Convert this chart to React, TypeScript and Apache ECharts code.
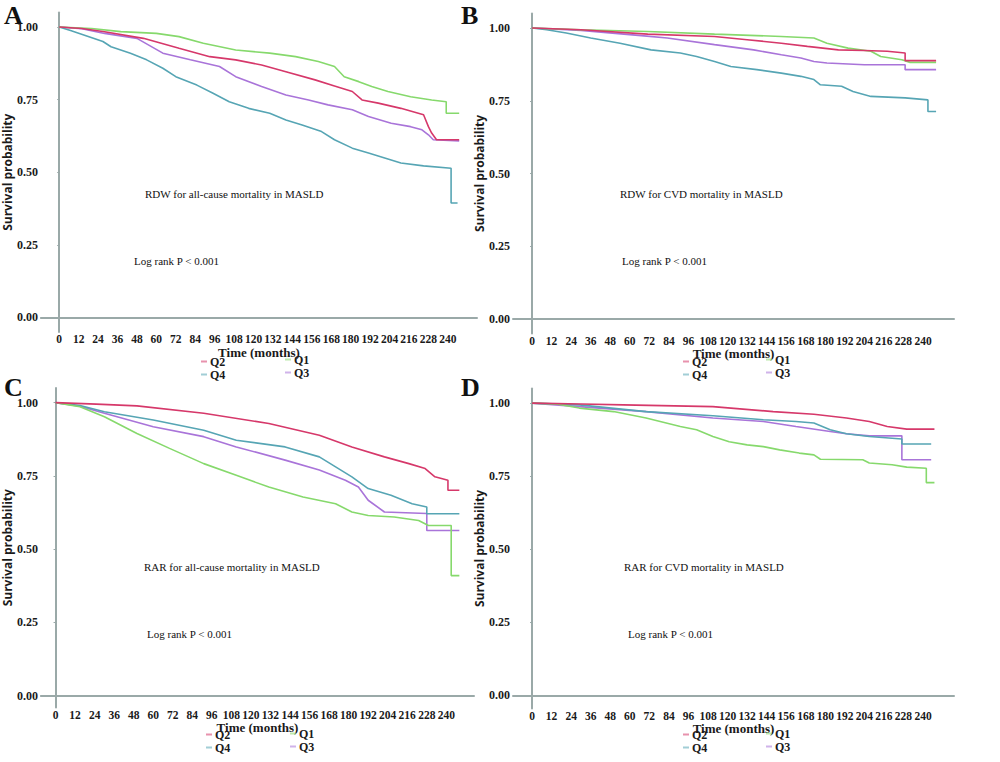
import React, { useEffect, useRef } from "react";
import * as echarts from "echarts";

// ---- tick labels ----
const xTicks = [0, 12, 24, 36, 48, 60, 72, 84, 96, 108, 120, 132, 144, 156, 168, 180, 192, 204, 216, 228, 240];
const yTicks = [0, 0.25, 0.5, 0.75, 1];
const groups = ["Q2", "Q1", "Q4", "Q3"];

// ---- Panel A: RDW, all-cause ----
const aQ2 = [[0, 1], [14, 0.995], [28, 0.984], [52, 0.961], [74, 0.927], [93, 0.898], [109, 0.887], [125, 0.869], [140, 0.846], [158, 0.818], [170, 0.797], [181, 0.778], [187, 0.749], [197, 0.738], [211, 0.72], [225, 0.698], [228, 0.657], [230, 0.635], [233, 0.612], [247, 0.612]];
const aQ1 = [[0, 1], [20, 0.995], [38, 0.984], [60, 0.978], [74, 0.967], [89, 0.944], [109, 0.921], [130, 0.91], [146, 0.898], [160, 0.881], [170, 0.864], [176, 0.829], [185, 0.812], [193, 0.795], [203, 0.778], [217, 0.76], [230, 0.749], [239, 0.743], [239, 0.703], [247, 0.703]];
const aQ4 = [[0, 1], [7, 0.988], [17, 0.969], [27, 0.95], [32, 0.932], [44, 0.91], [54, 0.887], [64, 0.858], [72, 0.829], [85, 0.8], [95, 0.772], [105, 0.743], [117, 0.72], [130, 0.703], [140, 0.68], [150, 0.663], [162, 0.64], [170, 0.612], [181, 0.583], [191, 0.566], [201, 0.549], [211, 0.532], [225, 0.522], [242, 0.514], [242, 0.394], [246, 0.394]];
const aQ3 = [[0, 1], [14, 0.994], [28, 0.978], [48, 0.961], [64, 0.91], [81, 0.887], [99, 0.864], [109, 0.829], [125, 0.795], [140, 0.766], [154, 0.749], [166, 0.732], [181, 0.715], [191, 0.692], [205, 0.669], [217, 0.657], [224, 0.646], [228, 0.629], [231, 0.612], [247, 0.608]];

// ---- Panel B: RDW, CVD ----
const bQ2 = [[0, 1], [30, 0.994], [71, 0.979], [112, 0.971], [132, 0.96], [153, 0.948], [169, 0.937], [188, 0.925], [204, 0.923], [218, 0.92], [229, 0.914], [229, 0.888], [248, 0.888]];
const bQ1 = [[0, 1], [30, 0.994], [71, 0.988], [112, 0.979], [153, 0.971], [173, 0.966], [181, 0.948], [194, 0.931], [208, 0.92], [214, 0.902], [227, 0.891], [232, 0.882], [248, 0.882]];
const bQ4 = [[0, 1], [9, 0.994], [21, 0.983], [36, 0.966], [54, 0.948], [73, 0.925], [91, 0.914], [101, 0.902], [112, 0.885], [122, 0.868], [138, 0.857], [153, 0.845], [165, 0.834], [173, 0.823], [177, 0.805], [190, 0.8], [197, 0.782], [208, 0.765], [229, 0.76], [243, 0.753], [243, 0.713], [248, 0.713]];
const bQ3 = [[0, 1], [30, 0.992], [67, 0.974], [83, 0.966], [112, 0.943], [136, 0.925], [153, 0.908], [165, 0.897], [173, 0.885], [181, 0.88], [204, 0.874], [229, 0.874], [229, 0.857], [248, 0.857]];

// ---- Panel C: RAR, all-cause ----
const cQ2 = [[0, 1], [25, 0.995], [50, 0.989], [91, 0.964], [131, 0.929], [162, 0.889], [182, 0.849], [202, 0.815], [217, 0.792], [227, 0.775], [233, 0.747], [241, 0.735], [241, 0.701], [248, 0.701]];
const cQ1 = [[0, 1], [15, 0.986], [30, 0.952], [50, 0.895], [70, 0.844], [91, 0.792], [111, 0.752], [131, 0.712], [152, 0.678], [172, 0.655], [182, 0.627], [192, 0.615], [208, 0.61], [223, 0.598], [229, 0.581], [243, 0.581], [243, 0.41], [248, 0.41]];
const cQ4 = [[0, 1], [15, 0.99], [30, 0.969], [60, 0.941], [91, 0.906], [111, 0.872], [141, 0.849], [162, 0.815], [172, 0.781], [182, 0.747], [192, 0.707], [206, 0.684], [219, 0.655], [228, 0.644], [228, 0.621], [248, 0.621]];
const cQ3 = [[0, 1], [15, 0.988], [30, 0.964], [60, 0.918], [91, 0.884], [111, 0.849], [141, 0.804], [162, 0.77], [178, 0.735], [186, 0.712], [192, 0.667], [202, 0.627], [228, 0.622], [228, 0.564], [248, 0.564]];

// ---- Panel D: RAR, CVD ----
const dQ2 = [[0, 1], [30, 0.997], [56, 0.994], [111, 0.988], [148, 0.971], [173, 0.962], [193, 0.949], [207, 0.937], [218, 0.92], [230, 0.911], [247, 0.911]];
const dQ1 = [[0, 1], [15, 0.997], [29, 0.983], [50, 0.971], [70, 0.949], [91, 0.92], [101, 0.909], [111, 0.886], [121, 0.868], [132, 0.857], [142, 0.851], [152, 0.84], [164, 0.829], [173, 0.823], [177, 0.808], [203, 0.806], [207, 0.795], [221, 0.789], [230, 0.781], [242, 0.777], [242, 0.728], [247, 0.728]];
const dQ4 = [[0, 1], [29, 0.994], [70, 0.971], [111, 0.957], [142, 0.943], [162, 0.937], [173, 0.932], [183, 0.909], [193, 0.895], [207, 0.886], [227, 0.877], [227, 0.86], [245, 0.86]];
const dQ3 = [[0, 1], [29, 0.988], [70, 0.971], [111, 0.949], [142, 0.937], [162, 0.92], [183, 0.903], [193, 0.895], [207, 0.888], [227, 0.888], [227, 0.806], [245, 0.806]];

const panelLetters = ["A", "B", "C", "D"];
const panelTitles = [
  "RDW for all-cause mortality in MASLD",
  "RDW for CVD mortality in MASLD",
  "RAR for all-cause mortality in MASLD",
  "RAR for CVD mortality in MASLD",
];
const logRankText = "Log rank P < 0.001";

const COLORS: Record<string, string> = {
  Q2: "#d6386a",
  Q1: "#86d96c",
  Q4: "#56a5b4",
  Q3: "#a974d9",
};

const SERIF = "'Liberation Serif', 'DejaVu Serif', serif";
const SANS = "'Open Sans', 'Noto Sans', sans-serif";
const AXIS_COLOR = "#9aa9a8";
const TEXT = "#1a1a1a";

const grids = [
  { left: 37, top: 12.5, width: 440, height: 319.5, xmin: -11.3, xmax: 258, ymin: -0.05 },
  { left: 513, top: 13.5, width: 441, height: 320, xmin: -11.7, xmax: 259, ymin: -0.05 },
  { left: 37, top: 388, width: 437, height: 319.5, xmin: -9, xmax: 257, ymin: -0.04 },
  { left: 513, top: 388.5, width: 441, height: 320, xmin: -11.7, xmax: 259, ymin: -0.045 },
];

const panelData = [
  { Q2: aQ2, Q1: aQ1, Q4: aQ4, Q3: aQ3 },
  { Q2: bQ2, Q1: bQ1, Q4: bQ4, Q3: bQ3 },
  { Q2: cQ2, Q1: cQ1, Q4: cQ4, Q3: cQ3 },
  { Q2: dQ2, Q1: dQ1, Q4: dQ4, Q3: dQ3 },
];

const nameGaps = [12, 12, 9, 9];
const titlePos = [[145, 194], [620, 194], [144, 567], [624, 567]];
const logPos = [[134, 261], [622, 261], [147, 634], [628, 634]];
const letterPos = [[4, 2], [461, 2], [4, 374], [461, 374]];
const legendPos = [
  [201, 355, 285, 353],
  [683, 355, 766, 353],
  [206, 728, 290, 727],
  [683, 728, 766, 727],
];

function buildOption() {
  const xAxis: any[] = [];
  const yAxis: any[] = [];
  const series: any[] = [];
  const legend: any[] = [];
  const graphic: any[] = [];

  grids.forEach((g, i) => {
    xAxis.push({
      type: "value",
      gridIndex: i,
      min: g.xmin,
      max: g.xmax,
      axisLine: { show: true, lineStyle: { color: AXIS_COLOR, width: 2 } },
      axisTick: { show: false },
      splitLine: { show: false },
      axisLabel: {
        customValues: xTicks,
        fontFamily: SERIF,
        fontSize: 11.5,
        fontWeight: "bold",
        color: TEXT,
        margin: 1,
      },
      name: "Time (months)",
      nameLocation: "middle",
      nameGap: nameGaps[i],
      nameTextStyle: { fontFamily: SERIF, fontSize: 13, fontWeight: "bold", color: TEXT },
    });
    yAxis.push({
      type: "value",
      gridIndex: i,
      min: g.ymin,
      max: 1.05,
      axisLine: { show: true, lineStyle: { color: AXIS_COLOR, width: 2 } },
      axisTick: { show: true, customValues: yTicks, length: 2, lineStyle: { color: AXIS_COLOR } },
      splitLine: { show: false },
      axisLabel: {
        customValues: yTicks,
        formatter: (v: number) => v.toFixed(2),
        fontFamily: SERIF,
        fontSize: 12,
        fontWeight: "bold",
        color: TEXT,
        margin: 3,
      },
      name: "Survival probability",
      nameLocation: "middle",
      nameGap: 21,
      nameTextStyle: { fontFamily: SANS, fontSize: 12, fontWeight: "bold", color: TEXT },
    });
    const pd: any = panelData[i];
    ["Q3", "Q4", "Q1", "Q2"].forEach((q) => {
      series.push({
        type: "line",
        name: q,
        xAxisIndex: i,
        yAxisIndex: i,
        data: pd[q],
        showSymbol: false,
        symbol: "none",
        color: COLORS[q],
        lineStyle: { color: COLORS[q], width: 1.6 },
        silent: true,
      });
    });
    const lp = legendPos[i];
    const legendCommon = {
      orient: "vertical",
      itemWidth: 6,
      itemHeight: 2,
      itemGap: 0,
      icon: "rect",
      padding: 0,
      selectedMode: false,
      itemStyle: { opacity: 0.55 },
      textStyle: { fontFamily: SERIF, fontSize: 12, fontWeight: "bold", color: TEXT, lineHeight: 13, padding: [0, 0, 0, -2] },
    };
    legend.push({ ...legendCommon, data: [groups[0], groups[2]], left: lp[0], top: lp[1] });
    legend.push({ ...legendCommon, data: [groups[1], groups[3]], left: lp[2], top: lp[3] });

    graphic.push({
      type: "text",
      left: letterPos[i][0],
      top: letterPos[i][1],
      style: { text: panelLetters[i], font: `bold 26px ${SERIF}`, fill: "#111" },
    });
    graphic.push({
      type: "text",
      x: titlePos[i][0],
      y: titlePos[i][1],
      style: { text: panelTitles[i], font: `11px ${SERIF}`, fill: "#111", textVerticalAlign: "middle" },
    });
    graphic.push({
      type: "text",
      x: logPos[i][0],
      y: logPos[i][1],
      style: { text: logRankText, font: `11px ${SERIF}`, fill: "#111", textVerticalAlign: "middle" },
    });
  });

  return {
    animation: false,
    backgroundColor: "#ffffff",
    grid: grids.map((g) => ({ left: g.left, top: g.top, width: g.width, height: g.height, containLabel: false })),
    xAxis,
    yAxis,
    legend,
    series,
    graphic,
  };
}

export default function App() {
  const ref = useRef<HTMLDivElement>(null);
  useEffect(() => {
    if (!ref.current) return;
    const chart = echarts.init(ref.current, undefined, { renderer: "svg" });
    chart.setOption(buildOption() as any);
    return () => chart.dispose();
  }, []);
  return (
    <div
      ref={ref}
      style={{ position: "absolute", left: 0, top: 0, width: 1000, height: 762, background: "#fff" }}
    />
  );
}
